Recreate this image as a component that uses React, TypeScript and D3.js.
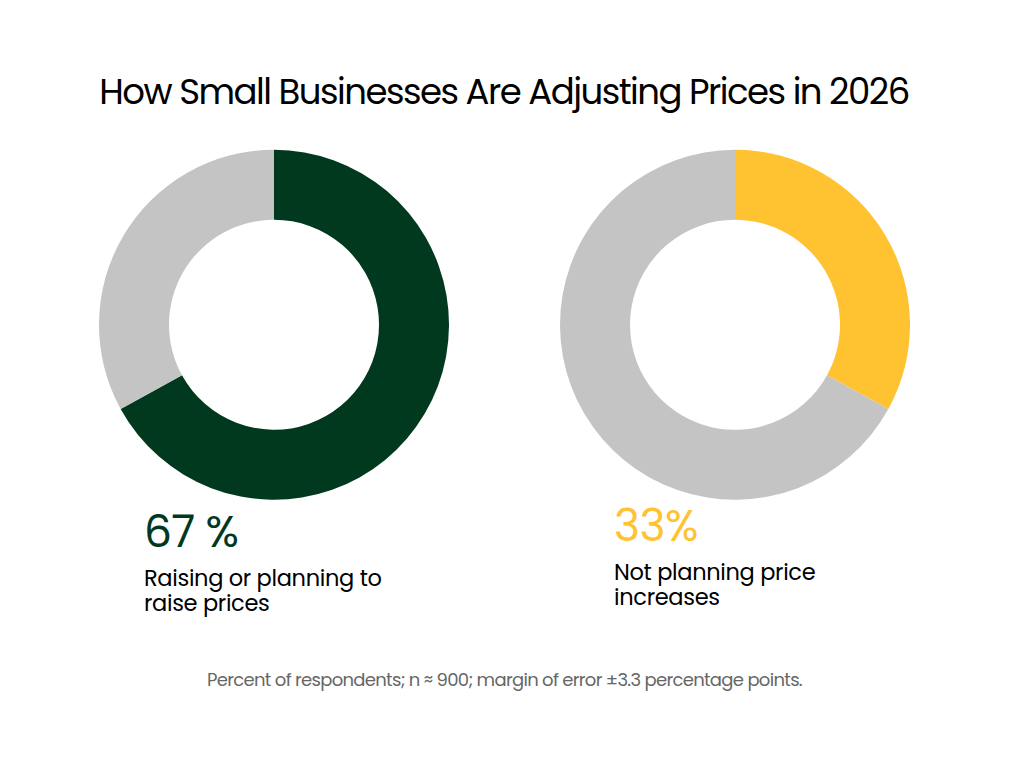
import * as d3 from "d3";
import React from "react";

const title = "How Small Businesses Are Adjusting Prices in 2026";
const footnote = "Percent of respondents; n ≈ 900; margin of error ±3.3 percentage points.";

const raisingValues = [67, 33];
const notPlanningValues = [33, 67];
const raisingLabel = ["Raising or planning to", "raise prices"];
const notPlanningLabel = ["Not planning price", "increases"];

const green = "#01391f";
const yellow = "#ffc231";
const gray = "#c4c4c4";
const font = "Poppins, Lato, Inter, 'Open Sans', sans-serif";

const width = 1024;
const height = 768;
const outerRadius = 175;
const innerRadius = 105;

function Donut({
  values,
  colors,
  cx,
  cy,
}: {
  values: number[];
  colors: string[];
  cx: number;
  cy: number;
}) {
  const pie = d3.pie<number>().sort(null);
  const arc = d3
    .arc<d3.PieArcDatum<number>>()
    .innerRadius(innerRadius)
    .outerRadius(outerRadius);
  return (
    <g transform={`translate(${cx},${cy})`}>
      {pie(values).map((slice, i) => (
        <path key={i} d={arc(slice) ?? ""} fill={colors[i]} />
      ))}
    </g>
  );
}

function WrappedLabel({ lines, x, y }: { lines: string[]; x: number; y: number }) {
  return (
    <text x={x} y={y} fontSize={22.5} letterSpacing={-0.32} fill="#000">
      {lines.map((line, i) => (
        <tspan key={line} x={x} dy={i === 0 ? 0 : 25}>
          {line}
        </tspan>
      ))}
    </text>
  );
}

export default function App() {
  return (
    <svg
      width={width}
      height={height}
      style={{ position: "absolute", left: 0, top: 0, background: "#fff" }}
      fontFamily={font}
    >
      <text x={504} y={103.5} fontSize={35.5} letterSpacing={-1.5} textAnchor="middle" fill="#000">
        {title}
      </text>

      <Donut values={raisingValues} colors={[green, gray]} cx={274} cy={324.75} />
      <Donut values={notPlanningValues} colors={[yellow, gray]} cx={735} cy={324.75} />

      <text x={144} y={547} fontSize={44} letterSpacing={-0.7} fill={green}>
        67 %
      </text>
      <WrappedLabel lines={raisingLabel} x={144} y={586} />

      <text x={614} y={541} fontSize={44} letterSpacing={-0.4} fill={yellow}>
        33%
      </text>
      <WrappedLabel lines={notPlanningLabel} x={614} y={580} />

      <text x={504.5} y={686} fontSize={18} letterSpacing={-0.69} textAnchor="middle" fill="#666666">
        {footnote}
      </text>
    </svg>
  );
}
